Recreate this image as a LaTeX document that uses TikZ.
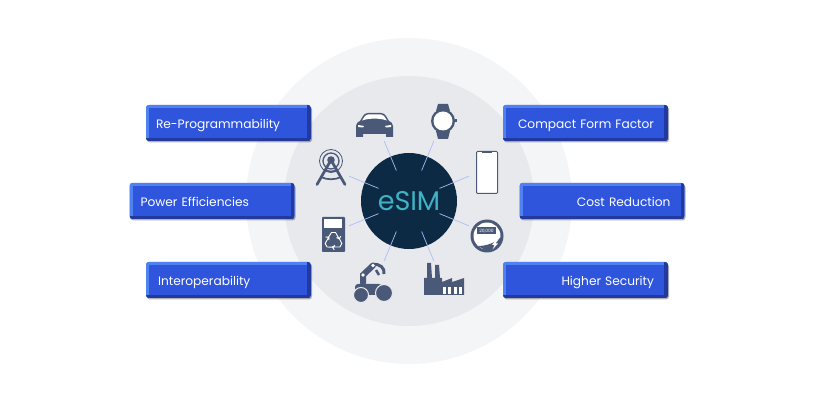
\documentclass[tikz,border=0pt]{standalone}
\usepackage{fontspec}
\setmainfont{Poppins}
\usetikzlibrary{shadows}
\definecolor{ringout}{HTML}{F4F5F7}
\definecolor{ringin}{HTML}{E8E9ED}
\definecolor{hubblue}{HTML}{0D2A45}
\definecolor{hubtext}{HTML}{3FB2C4}
\definecolor{spokeblue}{HTML}{A9BFF5}
\definecolor{iconblue}{HTML}{4A5977}
\definecolor{boxblue}{HTML}{2F55DC}
\definecolor{boxlight}{HTML}{4F82F0}
\definecolor{boxdark}{HTML}{223A9E}

\begin{document}
\begin{tikzpicture}[x=1pt,y=-1pt]
		\tikzset{featbox/.style = {shape=rectangle,rounded corners=3pt,fill=boxblue,minimum width=165pt,minimum height=36pt,inner sep=0pt,text=white,font=\fontsize{12.2}{16}\selectfont,text height=13.5pt,text depth=1.5pt,
				drop shadow={shadow xshift=1pt,shadow yshift=-1.5pt,opacity=0.3,fill=black},
				path picture={
					\fill[boxlight,sharp corners] (path picture bounding box.north west) rectangle ([yshift=-3pt]path picture bounding box.north east);
					\fill[boxlight,sharp corners] (path picture bounding box.north west) rectangle ([xshift=3pt]path picture bounding box.south west);
					\fill[boxdark,sharp corners] (path picture bounding box.north east) rectangle ([xshift=-4pt]path picture bounding box.south east);
					\fill[boxdark,sharp corners] (path picture bounding box.south west) rectangle ([yshift=3pt]path picture bounding box.south east);
				}}}
		\tikzset{featleft/.style = {featbox,text width=#1,align=left}}
		\tikzset{featright/.style = {featbox,text width=#1,align=right}}
		\tikzset{icon/.style = {fill=iconblue}}
		\tikzset{spoke/.style = {draw=spokeblue,line width=0.7pt}}
		\useasboundingbox (0,0) rectangle (814,403);

		\fill[ringout] (409,201) circle (163);
		\fill[ringin] (409,201) circle (125);
		\node[shape=circle,fill=hubblue,minimum size=96pt,inner sep=0pt,text=hubtext,font=\fontsize{27}{32}\selectfont] (hub) at (409,201) {eSIM};

		\node[featleft=145pt] (reprog) at (228.5,123) {Re-Programmability};
		\node[featleft=143pt] (power) at (212,201) {Power Efficiencies};
		\node[featleft=141pt] (interop) at (228.5,280) {Interoperability};
		\node[featright=137pt] (compact) at (585.5,123) {Compact Form Factor};
		\node[featright=137pt] (cost) at (602,201) {Cost Reduction};
		\node[featright=137pt] (security) at (585.5,280) {Higher Security};

		\foreach \idx [evaluate=\idx as \ang using 22.5+45*\idx] in {0,...,7} {
			\coordinate (in\idx) at ([shift={(\ang:33)}]hub.center);
			\coordinate (out\idx) at ([shift={(\ang:65)}]hub.center);
			\draw[spoke] (in\idx) -- (out\idx);
		}

		% car
		\fill[icon] (356,137) -- (356,126) .. controls (356,123) and (358,122) .. (360,121) -- (363,116) .. controls (364,114) and (366,113) .. (368,113) -- (381,113) .. controls (383,113) and (385,114) .. (386,116) -- (389,121) .. controls (391,122) and (393,123) .. (393,126) -- (393,137) -- (386,137) -- (386,134) -- (363,134) -- (363,137) -- cycle;
		\fill[white] (362,120.5) -- (365,116) .. controls (366,115) and (367,114.5) .. (368,114.5) -- (381,114.5) .. controls (382,114.5) and (383,115) .. (384,116) -- (387,120.5) .. controls (380,118) and (369,118) .. (362,120.5) -- cycle;
		\fill[white] (358,125) -- (364,126) -- (363,127.5) -- (358,127) -- cycle;
		\fill[white] (391,125) -- (385,126) -- (386,127.5) -- (391,127) -- cycle;

		% watch
		\fill[icon] (438,104) -- (448,104) -- (450,111) -- (436,111) -- cycle;
		\fill[icon] (436,131) -- (450,131) -- (448,139) -- (438,139) -- cycle;
		\fill[icon] (455,119.5) rectangle (456.5,122.5);
		\fill[icon] (443,121) circle (12);
		\fill[white] (443,121) circle (9.5);

		% phone
		\draw[iconblue,fill=white,line width=1pt,rounded corners=1pt] (476.5,151.5) rectangle (497.5,193.5);
		\fill[iconblue] (482,151.5) rectangle (492,152.8);

		% tower
		\draw[iconblue,line width=0.8pt] (331,161) circle (11.5);
		\draw[iconblue,line width=1.3pt] (331,161) circle (8);
		\fill[icon] (331,160) circle (3.8);
		\draw[iconblue,line width=2.7pt,line cap=round] (317,184.5) -- (331,160) -- (345,184.5);
		\draw[iconblue,line width=1.7pt] (325.5,170) .. controls (329,172) and (333,172) .. (336.5,170);
		\draw[iconblue,line width=1.7pt] (321,177) .. controls (327,180) and (335,180) .. (341,177);

		% recycling meter
		\fill[icon,rounded corners=0.8pt] (322,217) rectangle (345,252);
		\fill[white] (324,219) rectangle (342,228);
		\foreach \rot in {0,120,240} {
			\draw[white,line width=0.9pt,rotate around={\rot:(333.5,241)}] (328,238) -- (331.5,232.5) -- (335.5,232.5) -- (339,238.5) (336.5,237.5) -- (339.3,239) -- (340.8,236);
		}

		% smart meter
		\fill[icon] (487,236) circle (16.5);
		\fill[white] (487,236) circle (13.5);
		\fill[icon] (477,227.5) rectangle (496,234.5);
		\node[text=white,inner sep=0pt,font=\fontsize{4.4}{6}\selectfont] (reading) at (486.5,231) {20,000};
		\fill[icon] (478,246) .. controls (486,246) and (495,243) .. (500,238) -- (502,236) arc (0:90:15 and 15) -- cycle;
		\fill[white] (496.5,239.5) -- (492,245) -- (494.5,245) -- (492.5,249.5) -- (498,243.5) -- (495.5,243.5) -- (498.5,239.5) -- cycle;

		% robot
		\fill[icon,rounded corners=3pt] (355,284) rectangle (382,295);
		\draw[ringin,fill=iconblue,line width=1pt] (361,295) circle (7.5);
		\draw[ringin,fill=iconblue,line width=1pt] (384,293) circle (8.5);
		\draw[iconblue,line width=6pt,line cap=round] (363,283) -- (363,275) -- (373,265.5);
		\draw[iconblue,line width=3pt] (373,264.5) .. controls (380,263.5) and (385,268) .. (384,274);
		\draw[iconblue,line width=2.5pt] (376,270) -- (379,275);
		\fill[white] (363,275) circle (1.8);
		\fill[white] (373,265.5) circle (1.8);

		% factory
		\fill[icon] (424,295) -- (424,278) -- (427,278) -- (427,263) -- (431,263) -- (432,278) -- (435,278) -- (435,265) -- (439,265) -- (440,278) -- (442,278) -- (442,282) -- (452,278) -- (452,282) -- (464,278) -- (464,295) -- cycle;
		\foreach \winx in {443,448,453.5,459} {
			\fill[white] (\winx,287) rectangle ++(3,7);
		}
\end{tikzpicture}
\end{document}
